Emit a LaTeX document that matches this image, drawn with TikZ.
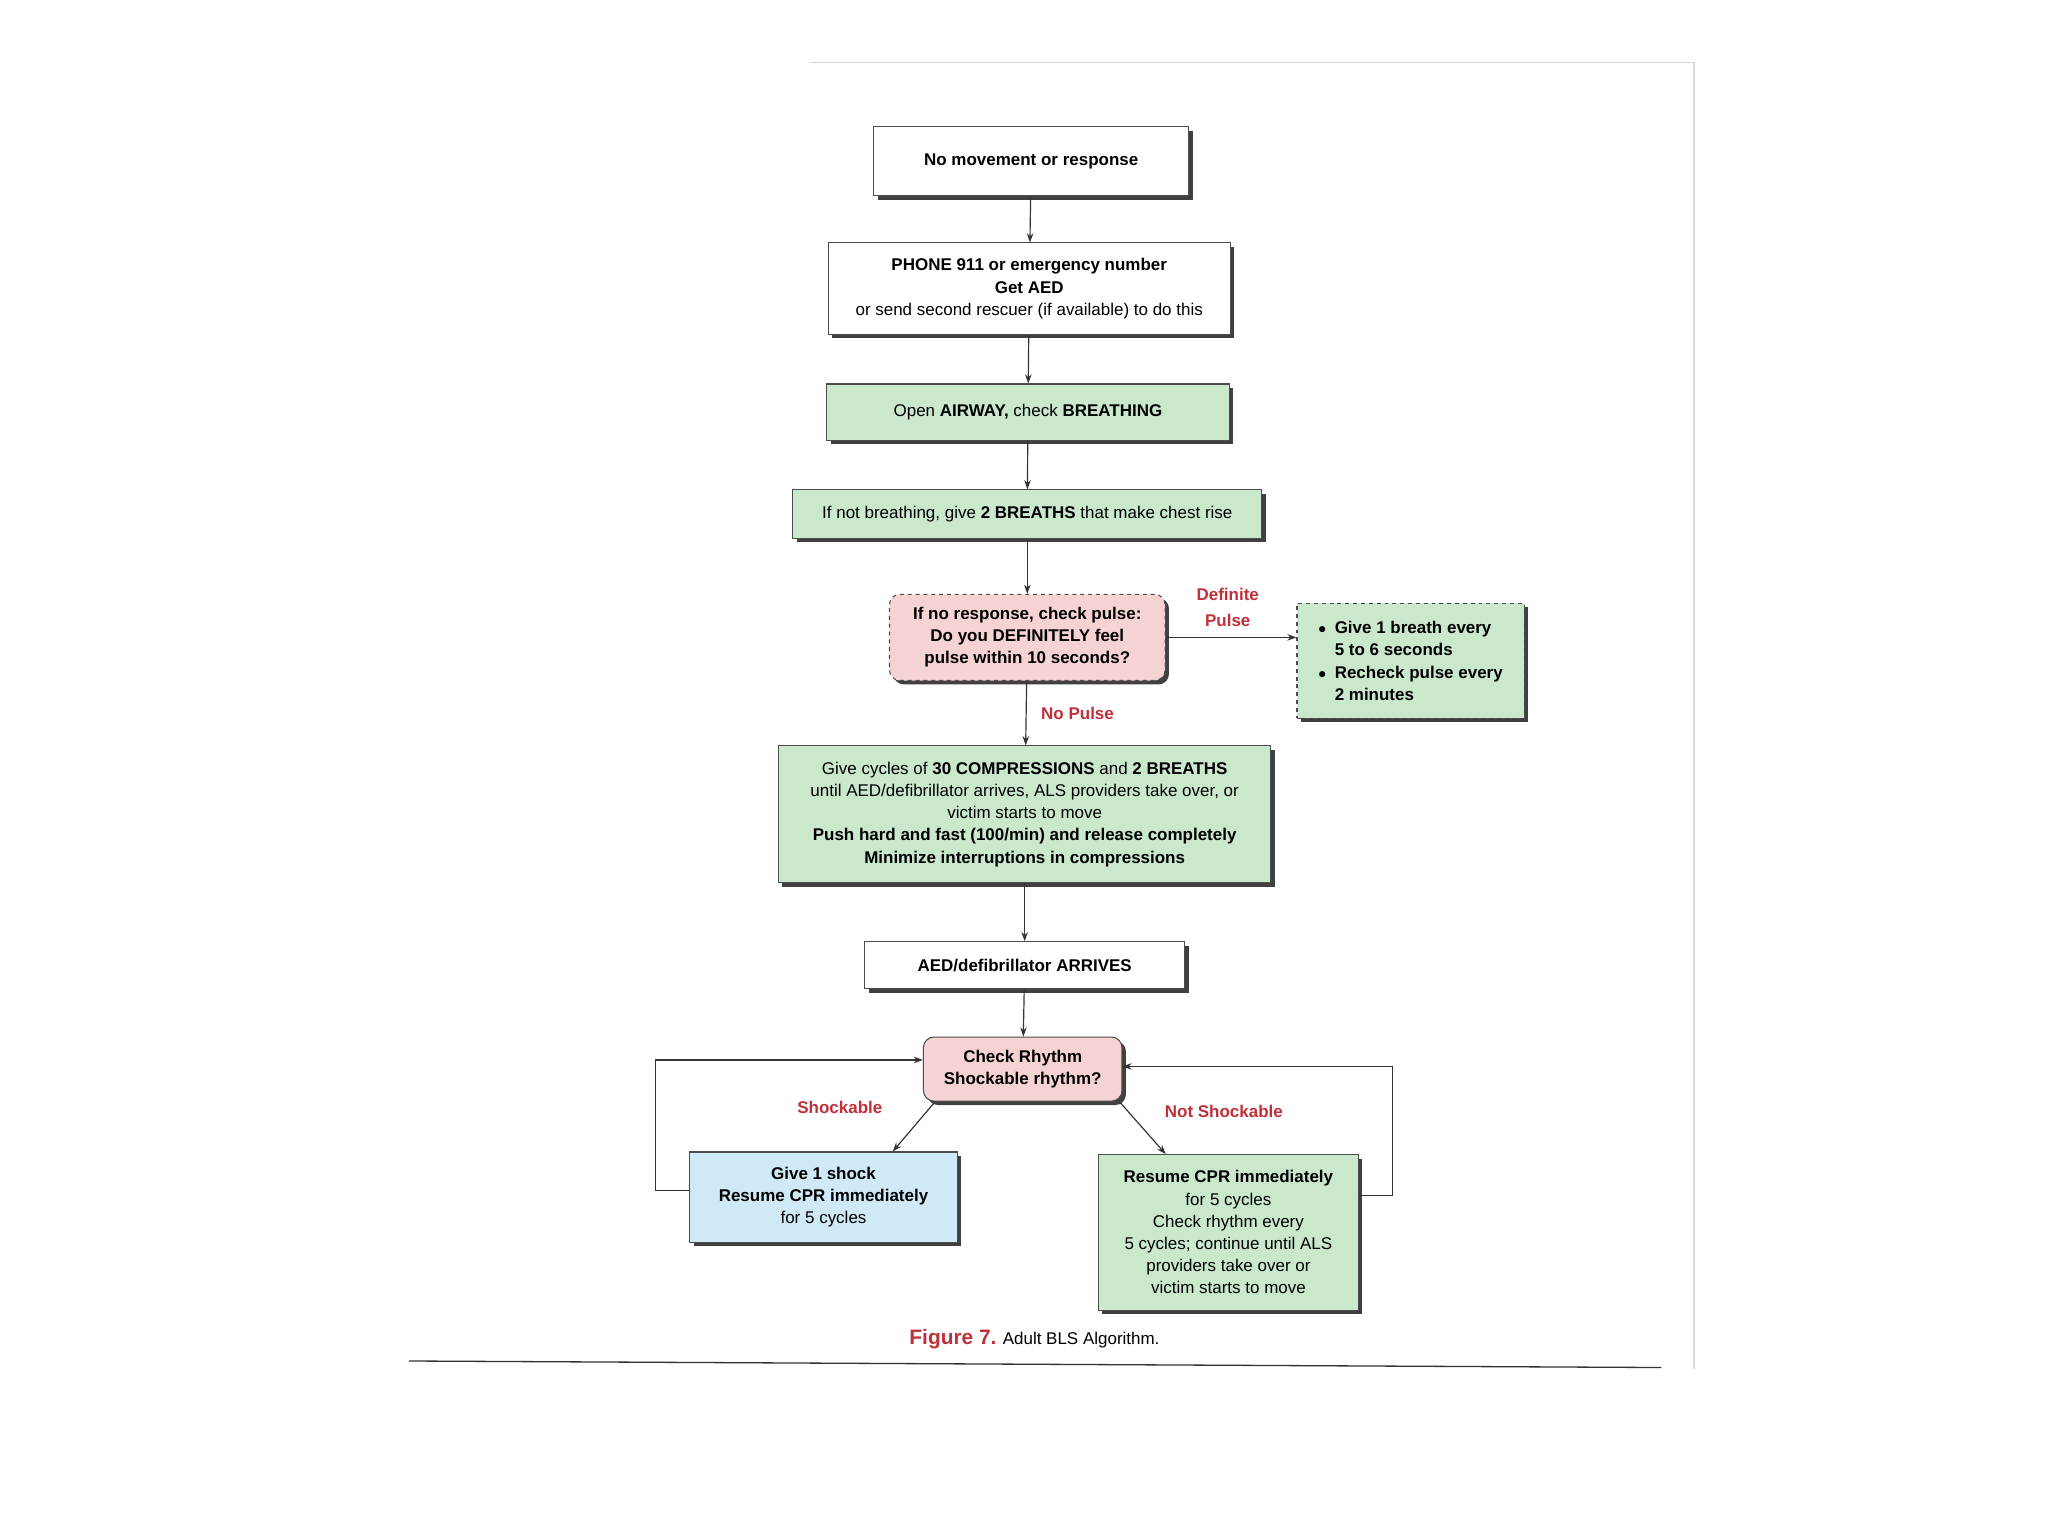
\documentclass[tikz,border=0pt]{standalone}
\usepackage{fontspec}
\setmainfont{Liberation Sans}
\usetikzlibrary{arrows.meta,shadows}
\definecolor{gbox}{HTML}{C9E8CC}
\definecolor{pbox}{HTML}{F6D3D3}
\definecolor{bbox}{HTML}{CFE9F6}
\definecolor{lred}{HTML}{C0303A}
\begin{document}
\begin{tikzpicture}[x=1pt,y=1pt,
  box/.style={draw=black!70,line width=0.8pt,align=center,inner sep=2pt,
    font=\fontsize{13}{17}\selectfont,
    drop shadow={shadow xshift=3pt,shadow yshift=-3pt,fill=black!75,opacity=1}},
  lab/.style={text=lred,font=\fontsize{13}{20}\selectfont\bfseries,align=center},
  arr/.style={draw=black!80,line width=0.9pt,-{Stealth[length=7pt,width=5pt]}}]
\useasboundingbox[fill=white] (0,0) rectangle (1568,-1176);
\draw[black!15,line width=1pt] (620,-48) -- (1297,-48) -- (1297,-1048);
\draw[black!80,line width=1pt] (313,-1042) -- (1272,-1047);
\node[box,fill=white,minimum width=241pt,minimum height=53pt] (b1) at (789.5,-123.5) {\textbf{No movement or response}};
\node[box,fill=white,minimum width=308pt,minimum height=70pt] (b2) at (788,-221) {\textbf{PHONE 911 or emergency number}\\\textbf{Get AED}\\or send second rescuer (if available) to do this};
\node[box,fill=gbox,minimum width=308pt,minimum height=43pt] (b3) at (787,-315.5) {Open \textbf{AIRWAY,} check \textbf{BREATHING}};
\node[box,fill=gbox,minimum width=359pt,minimum height=37pt] (b4) at (786.5,-393.5) {If not breathing, give \textbf{2 BREATHS} that make chest rise};
\node[box,fill=pbox,dashed,rounded corners=8pt,minimum width=211pt,minimum height=66pt] (b5) at (786.5,-488) {\textbf{If no response, check pulse:}\\\textbf{Do you DEFINITELY feel}\\\textbf{pulse within 10 seconds?}};
\node[box,fill=gbox,dashed,minimum width=174pt,minimum height=88pt,align=left] (br) at (1080,-506) {\textbf{$\bullet$\enspace Give 1 breath every}\\\textbf{\phantom{$\bullet$\enspace}5 to 6 seconds}\\\textbf{$\bullet$\enspace Recheck pulse every}\\\textbf{\phantom{$\bullet$\enspace}2 minutes}};
\node[box,fill=gbox,minimum width=377pt,minimum height=105pt] (b6) at (784.5,-623.5) {Give cycles of \textbf{30 COMPRESSIONS} and \textbf{2 BREATHS}\\until AED/defibrillator arrives, ALS providers take over, or\\victim starts to move\\\textbf{Push hard and fast (100/min) and release completely}\\\textbf{Minimize interruptions in compressions}};
\node[box,fill=white,minimum width=245pt,minimum height=36pt] (b7) at (784.5,-739) {\textbf{AED/defibrillator ARRIVES}};
\node[box,fill=pbox,rounded corners=8pt,minimum width=152pt,minimum height=49pt] (b8) at (783,-818.5) {\textbf{Check Rhythm}\\\textbf{Shockable rhythm?}};
\node[box,fill=bbox,minimum width=205pt,minimum height=69pt] (b9) at (630.5,-916.5) {\textbf{Give 1 shock}\\\textbf{Resume CPR immediately}\\for 5 cycles};
\node[box,fill=gbox,minimum width=199pt,minimum height=119pt] (b10) at (940.5,-943.5) {\textbf{Resume CPR immediately}\\for 5 cycles\\Check rhythm every\\5 cycles; continue until ALS\\providers take over or\\victim starts to move};
\draw[arr] (b1) -- (b2);
\draw[arr] (b2) -- (b3);
\draw[arr] (b3) -- (b4);
\draw[arr] (b4) -- (b5);
\draw[arr] (b5.east) -- (b5.east -| br.west);
\draw[arr] (b5) -- (b6);
\draw[arr] (b6) -- (b7);
\draw[arr] (b7) -- (b8);
\draw[arr] ([xshift=-67pt]b8.south) -- ([xshift=53pt]b9.north);
\draw[arr] ([xshift=74pt]b8.south) -- ([xshift=-48pt]b10.north);
\draw[arr] ([yshift=5pt]b9.west) -- ++(-26,0) |- ([yshift=7pt]b8.west);
\draw[arr] ([yshift=28pt]b10.east) -- ++(26,0) |- ([yshift=2pt]b8.east);
\node[lab] (l1) at (940,-465) {Definite\\Pulse};
\node[lab] (l2) at (825,-546) {No Pulse};
\node[lab] (l3) at (643,-848) {Shockable};
\node[lab] (l4) at (937,-851) {Not Shockable};
\node[font=\fontsize{13}{16}\selectfont] (cap) at (792,-1025) {{\fontsize{16}{16}\selectfont\bfseries\color{lred}Figure 7.} Adult BLS Algorithm.};
\end{tikzpicture}
\end{document}
